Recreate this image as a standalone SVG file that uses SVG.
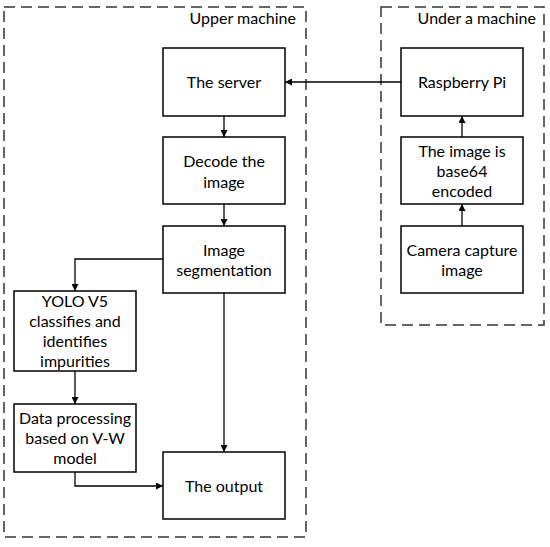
<svg xmlns="http://www.w3.org/2000/svg" width="550" height="547" viewBox="0 0 550 547">
<defs>
<marker id="ah" viewBox="0 0 10 10" refX="10" refY="5" markerWidth="7" markerHeight="7" markerUnits="userSpaceOnUse" orient="auto"><path d="M0,0 L10,5 L0,10 z" fill="#000"/></marker>
<style>
.box{fill:#fff;stroke:#000;stroke-width:1.5}
.grp{fill:none;stroke:#333;stroke-width:1.5;stroke-dasharray:11,6}
.t{font-family:Lato,"Open Sans","Liberation Sans",sans-serif;font-size:16px;fill:#000;text-anchor:middle}
.c{fill:none;stroke:#000;stroke-width:1.3;marker-end:url(#ah)}
</style>
</defs>
<rect width="550" height="547" fill="#fff"/>
<g id="upper">
<rect class="grp" x="4" y="7" width="302" height="530"/>
<text class="t" x="296" y="24" style="text-anchor:end">Upper machine</text>
</g>
<g id="under">
<rect class="grp" x="381" y="7" width="163" height="318"/>
<text class="t" x="536" y="24" style="text-anchor:end">Under a machine</text>
</g>
<g id="server"><rect class="box" x="163" y="48" width="122" height="68"/><text class="t" x="224" y="88">The server</text></g>
<g id="decode"><rect class="box" x="163" y="137" width="122" height="67"/><text class="t" x="224" y="167">Decode the</text><text class="t" x="224" y="188">image</text></g>
<g id="segment"><rect class="box" x="163" y="226" width="122" height="67"/><text class="t" x="224" y="256">Image</text><text class="t" x="224" y="276">segmentation</text></g>
<g id="yolo"><rect class="box" x="14" y="291" width="122" height="80"/><text class="t" x="75" y="307">YOLO V5</text><text class="t" x="75" y="327">classifies and</text><text class="t" x="75" y="347">identifies</text><text class="t" x="75" y="367">impurities</text></g>
<g id="dataproc"><rect class="box" x="14" y="404" width="122" height="68"/><text class="t" x="75" y="424">Data processing</text><text class="t" x="75" y="444">based on V-W</text><text class="t" x="75" y="464">model</text></g>
<g id="output"><rect class="box" x="163" y="452" width="122" height="67"/><text class="t" x="224" y="492">The output</text></g>
<g id="raspberry"><rect class="box" x="401" y="48" width="122" height="68"/><text class="t" x="462" y="88">Raspberry Pi</text></g>
<g id="base64"><rect class="box" x="401" y="137" width="122" height="67"/><text class="t" x="462" y="157">The image is</text><text class="t" x="462" y="177">base64</text><text class="t" x="462" y="197">encoded</text></g>
<g id="camera"><rect class="box" x="401" y="226" width="122" height="67"/><text class="t" x="462" y="256">Camera capture</text><text class="t" x="462" y="276">image</text></g>
<g id="connectors">
<path class="c" d="M401,82 H285"/>
<path class="c" d="M224,116 V137"/>
<path class="c" d="M224,204 V226"/>
<path class="c" d="M163,259 H75 V291"/>
<path class="c" d="M224,293 V452"/>
<path class="c" d="M75,371 V404"/>
<path class="c" d="M75,472 V486 H163"/>
<path class="c" d="M462,137 V116"/>
<path class="c" d="M462,226 V204"/>
</g>
</svg>
